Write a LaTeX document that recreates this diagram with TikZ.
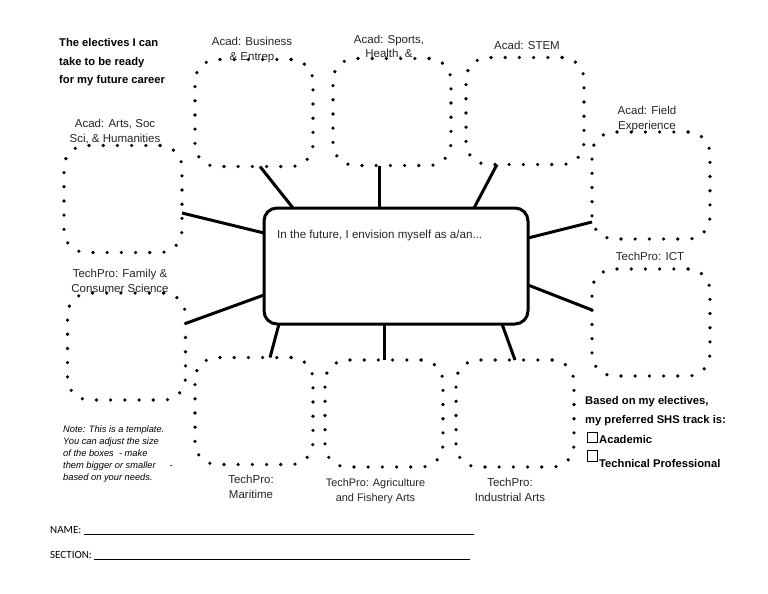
\documentclass[tikz,border=0pt]{standalone}
\usepackage{fontspec}
\setmainfont{Liberation Sans}
\newfontfamily\carlito{Carlito}
\usetikzlibrary{calc}
\begin{document}
\begin{tikzpicture}[x=1pt,y=-1pt,
  dotbox/.style={draw, rectangle, rounded corners=22pt, minimum width=118pt, minimum height=107pt, inner sep=0pt, outer sep=0pt, line width=3.6pt, line cap=round, dash pattern=on 0pt off 14.2pt},
  hub/.style={draw, rectangle, rounded corners=13pt, minimum width=264pt, minimum height=116pt, inner sep=0pt, outer sep=0pt, line width=3pt},
  spoke/.style={line width=3pt},
  lbl/.style={font=\fontsize{11.5}{14.5}\selectfont, align=center, anchor=base, inner sep=0pt, text=black!85},
  boldtxt/.style={font=\fontsize{11.2}{18.5}\selectfont\bfseries, align=left, anchor=base west, inner sep=0pt},
  notetxt/.style={font=\fontsize{9.3}{11.8}\selectfont\itshape, align=left, anchor=base west, inner sep=0pt},
  formtxt/.style={font=\carlito\fontsize{11}{12}\selectfont, anchor=base west, inner sep=0pt},
  checkbox/.style={draw, rectangle, line width=0.8pt, minimum size=10.5pt, inner sep=0pt, outer sep=0pt}
]
\useasboundingbox (0,0) rectangle (768,594);
\fill[white] (0,0) rectangle (768,594);

% central box
\node[hub] (ctr) at (396,266) {};
\node[font=\fontsize{11.6}{14}\selectfont, anchor=base west, inner sep=0pt, text=black!85] (ctrtxt) at (277,238) {In the future, I envision myself as a/an...};

% dotted boxes
\node[dotbox] (arts) at (123,199) {};
\node[dotbox] (biz) at (254,113) {};
\node[dotbox] (sports) at (392,112) {};
\node[dotbox] (stem) at (525,111) {};
\node[dotbox] (field) at (651,185.5) {};
\node[dotbox] (ict) at (651,322.5) {};
\node[dotbox] (family) at (126.5,346.5) {};
\node[dotbox] (maritime) at (254,411) {};
\node[dotbox] (agri) at (384,413.5) {};
\node[dotbox] (indus) at (515,413.5) {};

% spokes
\draw[spoke] ($(biz.south)+(6,0)$) -- ($(ctr.north west)+(29,0)$);
\draw[spoke] ($(sports.south)+(-13,0)$) -- ($(ctr.north west)+(115,0)$);
\draw[spoke] ($(stem.south)+(-28,0)$) -- ($(ctr.north west)+(210,0)$);
\draw[spoke] ($(arts.east)+(0,14)$) -- ($(ctr.north west)+(0,25)$);
\draw[spoke] ($(family.east)+(0,-23)$) -- ($(ctr.north west)+(0,87)$);
\draw[spoke] ($(maritime.north)+(16,0)$) -- ($(ctr.south west)+(15,0)$);
\draw[spoke] ($(field.west)+(0,36.5)$) -- ($(ctr.north east)+(0,30)$);
\draw[spoke] ($(ict.west)+(0,-12.5)$) -- ($(ctr.north east)+(0,77)$);
\draw[spoke] (agri.north) -- ($(ctr.south west)+(120,0)$);
\draw[spoke] (indus.north) -- ($(ctr.south west)+(238,0)$);

% labels (base = baseline of last line)
\node[lbl] (lbiz) at (252,60) {Acad: Business\\\& Entrep};
\node[lbl] (larts) at (115,142) {Acad: Arts, Soc\\Sci, \& Humanities};
\node[lbl] (lsports) at (389,58) {Acad: Sports,\\Health, \&};
\node[lbl] (lstem) at (527,50) {Acad: STEM};
\node[lbl] (lfield) at (647,129) {Acad: Field\\Experience};
\node[lbl] (lict) at (650,260) {TechPro: ICT};
\node[lbl] (lfamily) at (120,292) {TechPro: Family \&\\Consumer Science};
\node[lbl] (lmaritime) at (251,498) {TechPro:\\Maritime};
\node[lbl, font=\fontsize{10.9}{14.5}\selectfont] (lagri) at (375.5,501) {TechPro: Agriculture\\and Fishery Arts};
\node[lbl] (lindus) at (510,501) {TechPro:\\Industrial Arts};

% heading
\node[boldtxt] (head) at (59,84) {The electives I can\\take to be ready\\for my future career};

% note
\node[notetxt] (note) at (63,480) {Note: This is a template.\\You can adjust the size\\of the boxes\ \ - make\\them bigger or smaller\hspace{14pt}-\\based on your needs.};

% track
\node[boldtxt] (track) at (585,423) {Based on my electives,\\my preferred SHS track is:};
\node[checkbox] (cb1) at (592.5,437.5) {};
\node[checkbox] (cb2) at (592.5,456) {};
\node[boldtxt, font=\fontsize{11.2}{14}\selectfont\bfseries] (acad) at (599,443) {Academic};
\node[boldtxt, font=\fontsize{11.2}{14}\selectfont\bfseries] (tech) at (599,467) {Technical Professional};

% form
\node[formtxt] (name) at (50,533) {NAME: \rule[-1.2pt]{390pt}{0.5pt}};
\node[formtxt] (section) at (50,558) {SECTION: \rule[-1.2pt]{376pt}{0.5pt}};
\end{tikzpicture}
\end{document}
